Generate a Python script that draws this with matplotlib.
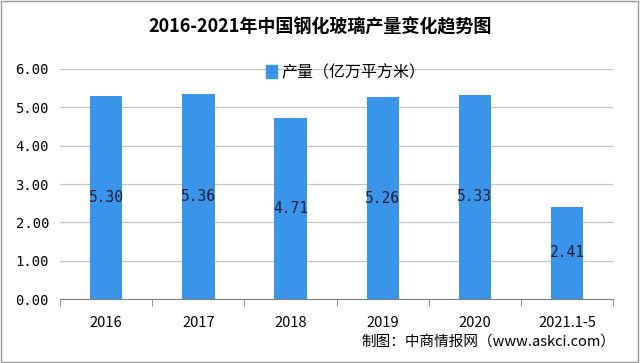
import matplotlib.pyplot as plt
from matplotlib.patches import Rectangle, Patch

plt.rcParams['font.family'] = ['Noto Sans CJK SC', 'DejaVu Sans']

years = ['2016', '2017', '2018', '2019', '2020', '2021.1-5']
output = [5.30, 5.36, 4.71, 5.26, 5.33, 2.41]
yticks = [0, 1, 2, 3, 4, 5, 6]

bar_color = '#3a94ea'

fig = plt.figure(figsize=(6.4, 3.63), dpi=100)
ax = fig.add_axes([0.094, 0.176, 0.864, 0.634])

x = list(range(len(years)))
ax.bar(x, output, width=0.35, color=bar_color, zorder=3)
for xi, v in zip(x, output):
    ax.text(xi, v / 2, f'{v:.2f}', ha='center', va='center',
            fontsize=10.5, color='#1a1a33', zorder=4,
            family='DejaVu Sans Mono')

ax.set_xlim(-0.5, len(years) - 0.5)
ax.set_ylim(0, 6)
ax.set_yticks(yticks)
ax.set_yticklabels([f'{t:.2f}' for t in yticks], family='DejaVu Sans Mono', fontsize=10)
ax.grid(axis='y', color='#c4c4c4', linewidth=0.9, zorder=0)

ax.set_xticks(x)
ax.set_xticklabels(years, fontsize=10.5)
ax.set_xticks([i - 0.5 for i in range(len(years) + 1)], minor=True)
ax.tick_params(axis='x', which='major', length=0, pad=12)
ax.tick_params(axis='x', which='minor', length=5, color='#808080')
ax.tick_params(axis='y', length=0, pad=8)
for s in ['top', 'right', 'left']:
    ax.spines[s].set_visible(False)
ax.spines['bottom'].set_color('#808080')

handle = Patch(color=bar_color)
fig.legend([handle], ['产量（亿万平方米）'], loc='center', bbox_to_anchor=(0.54, 0.80),
           frameon=False, fontsize=11.5, handlelength=0.7, handleheight=0.8, handletextpad=0.3)

fig.text(0.5, 0.925, '2016-2021年中国钢化玻璃产量变化趋势图', ha='center', va='center',
         fontsize=13, fontweight='bold')
fig.text(0.962, 0.06, '制图：中商情报网（www.askci.com）', ha='right', va='center', fontsize=10.5)

fig.patches.append(Rectangle((0.002, 0.003), 0.995, 0.994, transform=fig.transFigure,
                             fill=False, edgecolor='#9a9a9a', linewidth=1))

fig.savefig('out.png', dpi=100)
